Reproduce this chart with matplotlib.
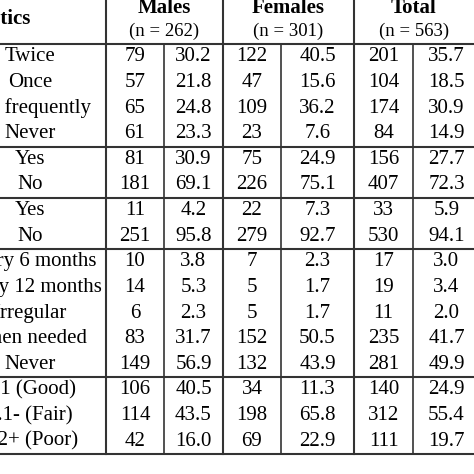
import matplotlib
matplotlib.use("Agg")
import matplotlib.pyplot as plt

labels = ["Twice", "Once", "Not frequently", "Never", "Yes", "No", "Yes", "No",
          "Every 6 months", "Every 12 months", "Irregular", "When needed", "Never",
          "0-1 (Good)", "1.1- (Fair)", "2.2+ (Poor)"]
males_n = [79, 57, 65, 61, 81, 181, 11, 251, 10, 14, 6, 83, 149, 106, 114, 42]
males_p = [30.2, 21.8, 24.8, 23.3, 30.9, 69.1, 4.2, 95.8, 3.8, 5.3, 2.3, 31.7, 56.9, 40.5, 43.5, 16.0]
fem_n = [122, 47, 109, 23, 75, 226, 22, 279, 7, 5, 5, 152, 132, 34, 198, 69]
fem_p = [40.5, 15.6, 36.2, 7.6, 24.9, 75.1, 7.3, 92.7, 2.3, 1.7, 1.7, 50.5, 43.9, 11.3, 65.8, 22.9]
tot_n = [201, 104, 174, 84, 156, 407, 33, 530, 17, 19, 11, 235, 281, 140, 312, 111]
tot_p = [35.7, 18.5, 30.9, 14.9, 27.7, 72.3, 5.9, 94.1, 3.0, 3.4, 2.0, 41.7, 49.9, 24.9, 55.4, 19.7]
groups = ["Males", "Females", "Total"]
group_n = ["(n = 262)", "(n = 301)", "(n = 563)"]
section_ends = [4, 6, 8, 13, 16]

fig = plt.figure(figsize=(4.74, 4.74), dpi=100)
ax = fig.add_axes([0, 0, 1, 1])
ax.set_xlim(0, 474); ax.set_ylim(474, 0); ax.axis("off")
fam = "Liberation Serif"
fs = 15
lc = "#333333"

group_x = [(106, 223), (223, 354), (354, 474)]
ytop, yhead, ybot = 0, 44, 454
rh = (ybot - yhead) / len(labels)

ax.plot([0, 474], [yhead, yhead], color=lc, lw=1.5)
for e in section_ends:
    y = yhead + e * rh
    ax.plot([0, 474], [y, y], color=lc, lw=1.5)
for x in [106, 223, 354]:
    ax.plot([x, x], [ytop, ybot], color=lc, lw=1.5)
for x in [164, 281, 413]:
    ax.plot([x, x], [yhead, ybot], color=lc, lw=1.2)

ax.text(30, 19, "Characteristics", ha="right", va="center", fontsize=fs, family=fam, weight="bold")
for (a, b), g, n in zip(group_x, groups, group_n):
    c = (a + b) / 2
    ax.text(c, 8, g, ha="center", va="center", fontsize=fs, family=fam, weight="bold")
    ax.text(c, 31, n, ha="center", va="center", fontsize=fs - 1.5, family=fam)

centers = [(106 + 164) / 2, (164 + 223) / 2, (223 + 281) / 2, (281 + 354) / 2, (354 + 413) / 2, (413 + 474) / 2 + 3]
for i, lab in enumerate(labels):
    y = yhead + (i + 0.5) * rh
    ax.text(30, y, lab, ha="center", va="center", fontsize=fs, family=fam)
    vals = [str(males_n[i]), f"{males_p[i]:.1f}", str(fem_n[i]), f"{fem_p[i]:.1f}",
            str(tot_n[i]), f"{tot_p[i]:.1f}"]
    for cx, v in zip(centers, vals):
        ax.text(cx, y, v, ha="center", va="center", fontsize=fs, family=fam)

fig.savefig("out.png", dpi=100)
